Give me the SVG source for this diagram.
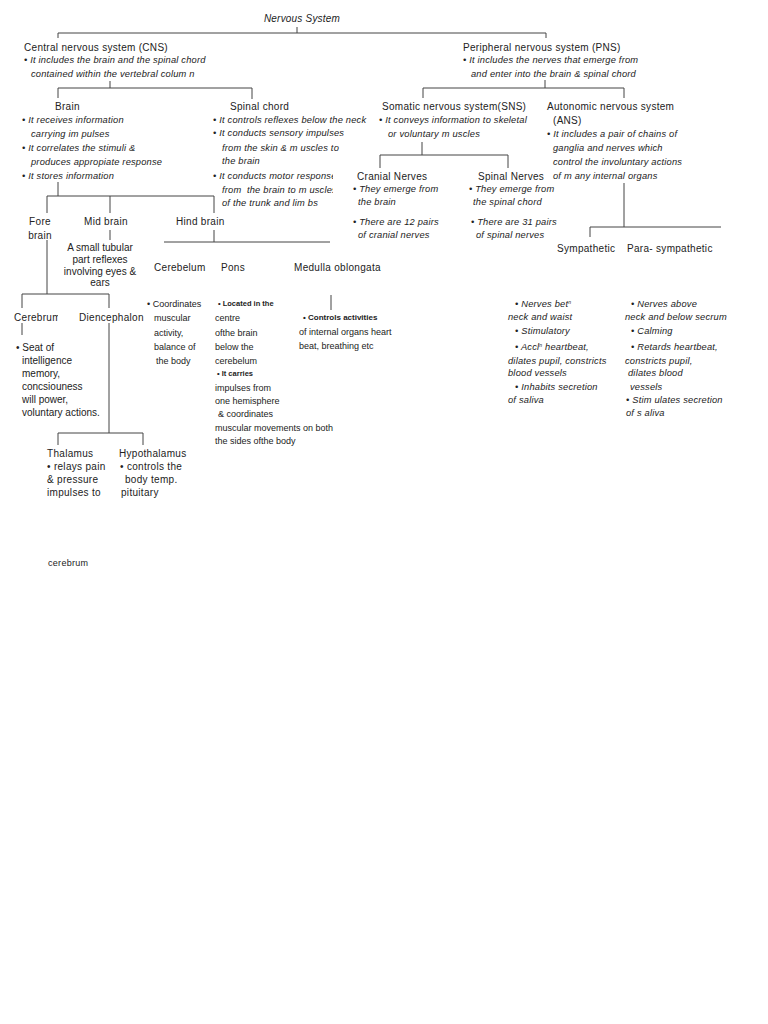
<svg xmlns="http://www.w3.org/2000/svg" width="768" height="1024" viewBox="0 0 768 1024">
<style>
text { font-family: "Liberation Sans", Arial, sans-serif; font-size: 10px; fill: #222; }
.h { letter-spacing: 0.3px; }
.i { font-style: italic; font-size: 9.3px; letter-spacing: 0.2px; }
.b { font-weight: bold; font-size: 7.5px; }
.s { font-size: 9px; }
.m { text-anchor: middle; }
.c path { fill: none; stroke: #444; stroke-width: 1; }
</style>
<defs>
<clipPath id="clipSC"><rect x="0" y="160" width="333" height="60"/></clipPath>
<clipPath id="clipCb"><rect x="0" y="300" width="58" height="30"/></clipPath>
</defs>
<rect width="768" height="1024" fill="#fff"/>

<g id="connectors" class="c">
<path d="M58,38 V33 H546 V38 M297,27 V33"/>
<path d="M110,81 V88 M58,98 V88 H252 V99"/>
<path d="M545,80 V88 M423,98 V88 H624 V98"/>
<path d="M58,182 V196 M47,213 V196 H214 V213 M110,196 V213"/>
<path d="M110,230 V240"/>
<path d="M214,230 V242 M164,242 H330"/>
<path d="M47,240 V294 M22,308 V294 H109 V308"/>
<path d="M22,323 V335"/>
<path d="M109,323 V433 M58,445 V433 H143 V445"/>
<path d="M331,295 V310"/>
<path d="M422,142 V155 M380,168 V155 H508 V168"/>
<path d="M624,183 V227 M590,237 V227 H721"/>
</g>

<g id="nervous-system"><text class="i m" x="302" y="22" style="font-size:10px">Nervous System</text></g>

<g id="cns">
<text class="h" x="24" y="51">Central nervous system (CNS)</text>
<text class="i" x="24" y="63">• It includes the brain and the spinal chord</text>
<text class="i" x="31" y="77">contained within the vertebral colum n</text>
</g>

<g id="pns">
<text class="h" x="463" y="51">Peripheral nervous system (PNS)</text>
<text class="i" x="463" y="63">• It includes the nerves that emerge from</text>
<text class="i" x="471" y="77">and enter into the brain &amp; spinal chord</text>
</g>

<g id="brain">
<text class="h" x="55" y="109.5">Brain</text>
<text class="i" x="22" y="123">• It receives information</text>
<text class="i" x="31" y="137">carrying im pulses</text>
<text class="i" x="22" y="151">• It correlates the stimuli &amp;</text>
<text class="i" x="31" y="165">produces appropiate response</text>
<text class="i" x="22" y="179">• It stores information</text>
</g>

<g id="spinal-chord">
<text class="h" x="230" y="109.5">Spinal chord</text>
<text class="i" x="213" y="123">• It controls reflexes below the neck</text>
<text class="i" x="213" y="136">• It conducts sensory impulses</text>
<text class="i" x="222" y="151">from the skin &amp; m uscles to</text>
<text class="i" x="222" y="164">the brain</text>
<g clip-path="url(#clipSC)">
<text class="i" x="213" y="179">• It conducts motor response</text>
<text class="i" x="222" y="193">from&#160; the brain to m uscles</text>
</g>
<text class="i" x="222" y="206">of the trunk and lim bs</text>
</g>

<g id="sns">
<text class="h" x="382" y="109.5">Somatic nervous system(SNS)</text>
<text class="i" x="379" y="123">• It conveys information to skeletal</text>
<text class="i" x="388" y="137">or voluntary m uscles</text>
</g>

<g id="ans">
<text class="h" x="547" y="109.5">Autonomic nervous system</text>
<text class="h" x="553" y="123.5">(ANS)</text>
<text class="i" x="547" y="137">• It includes a pair of chains of</text>
<text class="i" x="553" y="151">ganglia and nerves which</text>
<text class="i" x="553" y="165">control the involuntary actions</text>
<text class="i" x="553" y="179">of m any internal organs</text>
</g>

<g id="cranial-nerves">
<text class="h" x="357" y="179.5">Cranial Nerves</text>
<text class="i" x="353" y="192">• They emerge from</text>
<text class="i" x="358" y="205">the brain</text>
<text class="i" x="353" y="225">• There are 12 pairs</text>
<text class="i" x="358" y="238">of cranial nerves</text>
</g>

<g id="spinal-nerves">
<text class="h" x="478" y="179.5">Spinal Nerves</text>
<text class="i" x="469" y="192">• They emerge from</text>
<text class="i" x="473" y="205">the spinal chord</text>
<text class="i" x="471" y="225">• There are 31 pairs</text>
<text class="i" x="476" y="238">of spinal nerves</text>
</g>

<g id="fore-brain">
<text class="m h" x="40" y="224.5">Fore</text>
<text class="m h" x="40" y="238.5">brain</text>
</g>

<g id="mid-brain">
<text class="h" x="84" y="224.5">Mid brain</text>
<text class="m" x="100" y="251">A small tubular</text>
<text class="m" x="100" y="263">part reflexes</text>
<text class="m" x="100" y="274.5">involving eyes &amp;</text>
<text class="m" x="100" y="285.5">ears</text>
</g>

<g id="hind-brain"><text class="h" x="176" y="224.5">Hind brain</text></g>

<g id="cerebelum">
<text class="h" x="154" y="270.5">Cerebelum</text>
<text class="s" x="147" y="306.5">• Coordinates</text>
<text class="s" x="154" y="320.5">muscular</text>
<text class="s" x="154" y="335.5">activity,</text>
<text class="s" x="154" y="349.5">balance of</text>
<text class="s" x="156" y="363.5">the body</text>
</g>

<g id="pons">
<text class="h" x="221" y="270.5">Pons</text>
<text class="b" x="218" y="305.5">• Located in the</text>
<text class="s" x="215" y="320.5">centre</text>
<text class="s" x="215" y="335.5">ofthe brain</text>
<text class="s" x="215" y="349.5">below the</text>
<text class="s" x="215" y="363.5">cerebelum</text>
<text class="b" x="217" y="375.5">• It carries</text>
<text class="s" x="215" y="390.5">impulses from</text>
<text class="s" x="215" y="403.5">one hemisphere</text>
<text class="s" x="218" y="416.5">&amp; coordinates</text>
<text class="s" x="215" y="430.5">muscular movements on both</text>
<text class="s" x="215" y="443.5">the sides ofthe body</text>
</g>

<g id="medulla">
<text class="h" x="294" y="270.5">Medulla oblongata</text>
<text class="b" x="303" y="319.5" style="font-size:8px">• Controls activities</text>
<text class="s" x="299" y="335">of internal organs heart</text>
<text class="s" x="299" y="349">beat, breathing etc</text>
</g>

<g id="cerebrum">
<text class="h" x="14" y="320.5" clip-path="url(#clipCb)">Cerebrum</text>
<text x="16" y="350.5">• Seat of</text>
<text x="22" y="363.5">intelligence</text>
<text x="22" y="376.5">memory,</text>
<text x="22" y="389.5">concsiouness</text>
<text x="22" y="402.5">will power,</text>
<text x="22" y="415.5">voluntary actions.</text>
</g>

<g id="diencephalon"><text class="h" x="79" y="320.5">Diencephalon</text></g>

<g id="thalamus">
<text class="h" x="47" y="456.5">Thalamus</text>
<text class="h" x="47" y="469.5">• relays pain</text>
<text class="h" x="47" y="482.5">&amp; pressure</text>
<text class="h" x="47" y="495.5">impulses to</text>
<text class="s h" x="48" y="565.5">cerebrum</text>
</g>

<g id="hypothalamus">
<text class="h" x="119" y="456.5">Hypothalamus</text>
<text class="h" x="120" y="469.5">• controls the</text>
<text class="h" x="125" y="482.5">body temp.</text>
<text class="h" x="121" y="495.5">pituitary</text>
</g>

<g id="sympathetic">
<text class="h" x="557" y="251.5">Sympathetic</text>
<text class="i" x="515" y="307">• Nerves bet<tspan dy="-3" style="font-size:5px">n</tspan></text>
<text class="i" x="508" y="320">neck and waist</text>
<text class="i" x="515" y="334">• Stimulatory</text>
<text class="i" x="515" y="350">• Accl<tspan dy="-3" style="font-size:5px">n</tspan><tspan dy="3"> heartbeat,</tspan></text>
<text class="i" x="508" y="364">dilates pupil, constricts</text>
<text class="i" x="508" y="376">blood vessels</text>
<text class="i" x="515" y="390">• Inhabits secretion</text>
<text class="i" x="508" y="403">of saliva</text>
</g>

<g id="para-sympathetic">
<text class="h" x="627" y="251.5">Para- sympathetic</text>
<text class="i" x="631" y="307">• Nerves above</text>
<text class="i" x="625" y="320">neck and below secrum</text>
<text class="i" x="631" y="334">• Calming</text>
<text class="i" x="631" y="350">• Retards heartbeat,</text>
<text class="i" x="625" y="364">constricts pupil,</text>
<text class="i" x="628" y="376">dilates blood</text>
<text class="i" x="630" y="390">vessels</text>
<text class="i" x="626" y="403">• Stim ulates secretion</text>
<text class="i" x="626" y="416">of s aliva</text>
</g>
</svg>
